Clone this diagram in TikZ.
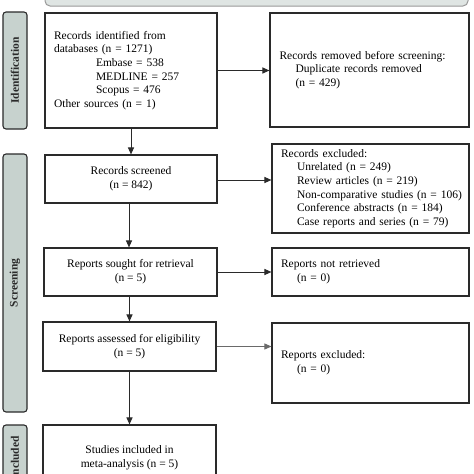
\documentclass[tikz,border=0pt]{standalone}
\usepackage{fontspec}
\setmainfont{Liberation Serif}
\usetikzlibrary{arrows.meta}
\definecolor{labfill}{HTML}{C7D2CE}
\definecolor{banfill}{HTML}{DFE5E3}
\definecolor{edge}{HTML}{2A2A2A}
\tikzset{
  box/.style={draw=edge, line width=1.1pt, fill=white, inner sep=0pt, font=\fontsize{11.5}{13.7}\selectfont},
  ctrbox/.style={box, align=center},
  leftbox/.style={box, align=left, text width=#1},
  phase/.style={draw=edge, line width=1.1pt, fill=labfill, rounded corners=3pt, minimum width=24pt, inner sep=0pt},
  phasetext/.style={font=\fontsize{11.5}{13.7}\selectfont\bfseries, text=edge, rotate=90},
  arr/.style={-{Triangle[length=7pt,width=6pt]}, line width=1pt, draw=edge},
  thinarr/.style={-{Triangle[length=7pt,width=6pt]}, line width=0.6pt, draw=edge!70},
}
\begin{document}
\begin{tikzpicture}[x=1pt,y=-1pt]
\useasboundingbox (0,0) rectangle (474,474);
\clip (0,0) rectangle (474,474);
% top banner
\node[draw=gray!80, line width=1pt, fill=banfill, rounded corners=5pt, minimum width=423pt, minimum height=40pt] (banner) at (256.5,-14) {};
% phase labels
\node[phase, minimum height=117pt] (idl) at (15,70.5) {};
\node[phasetext] (idt) at (idl.center) {Identification};
\node[phase, minimum height=258pt] (scl) at (15,283) {};
\node[phasetext] (sct) at (scl.center) {Screening};
\node[phase, minimum height=66pt] (inl) at (15,458) {};
\node[phasetext] (int) at (inl.center) {Included};
% left column
\node[leftbox=154pt, minimum width=172pt, minimum height=115pt] (b1) at (131,70.5) {Records identified from\\databases (n = 1271)\\\hspace*{42pt}Embase = 538\\\hspace*{42pt}MEDLINE = 257\\\hspace*{42pt}Scopus = 476\\Other sources (n = 1)};
\node[ctrbox, minimum width=172pt, minimum height=48pt] (b2) at (131,179) {Records screened\\(n = 842)};
\node[ctrbox, minimum width=173pt, minimum height=48pt] (b3) at (130.5,272) {Reports sought for retrieval\\(n = 5)};
\node[ctrbox, minimum width=173pt, minimum height=49pt] (b4) at (129.5,346.5) {Reports assessed for eligibility\\(n = 5)};
\node[ctrbox, minimum width=173pt, minimum height=66pt] (b5) at (129.5,458) {Studies included in\\meta-analysis (n = 5)};
% right column
\node[leftbox=180pt, minimum width=199pt, minimum height=114pt] (r1) at (369.5,70) {Records removed before screening:\\\hspace*{16pt}Duplicate records removed\\\hspace*{16pt}(n = 429)};
\node[leftbox=179pt, minimum width=197pt, minimum height=89pt] (r2) at (370.5,188.5) {Records excluded:\\\hspace*{16pt}Unrelated (n = 249)\\\hspace*{16pt}Review articles (n = 219)\\\hspace*{16pt}\mbox{Non-comparative studies (n = 106)}\\\hspace*{16pt}Conference abstracts (n = 184)\\\hspace*{16pt}\mbox{Case reports and series (n = 79)}};
\node[leftbox=179pt, minimum width=197pt, minimum height=48pt] (r3) at (370.5,272) {Reports not retrieved\\\hspace*{16pt}(n = 0)};
\node[leftbox=179pt, minimum width=197pt, minimum height=80pt] (r4) at (370.5,363) {Reports excluded:\\\hspace*{16pt}(n = 0)};
% connectors
\draw[arr] (b1.east) -- (b1.east -| r1.west);
\draw[arr] ([yshift=-1pt]b2.east) -- ([yshift=-1pt]b2.east -| r2.west);
\draw[arr] (b3.east) -- (b3.east -| r3.west);
\draw[thinarr] (b4.east) -- (b4.east -| r4.west);
\draw[arr] (b1.south) -- (b1.south |- b2.north);
\draw[arr] ([xshift=-2pt]b2.south) -- ([xshift=-2pt]b2.south |- b3.north);
\draw[arr] ([xshift=-1pt]b3.south) -- ([xshift=-1pt]b3.south |- b4.north);
\draw[arr] (b4.south) -- (b4.south |- b5.north);
\end{tikzpicture}
\end{document}
